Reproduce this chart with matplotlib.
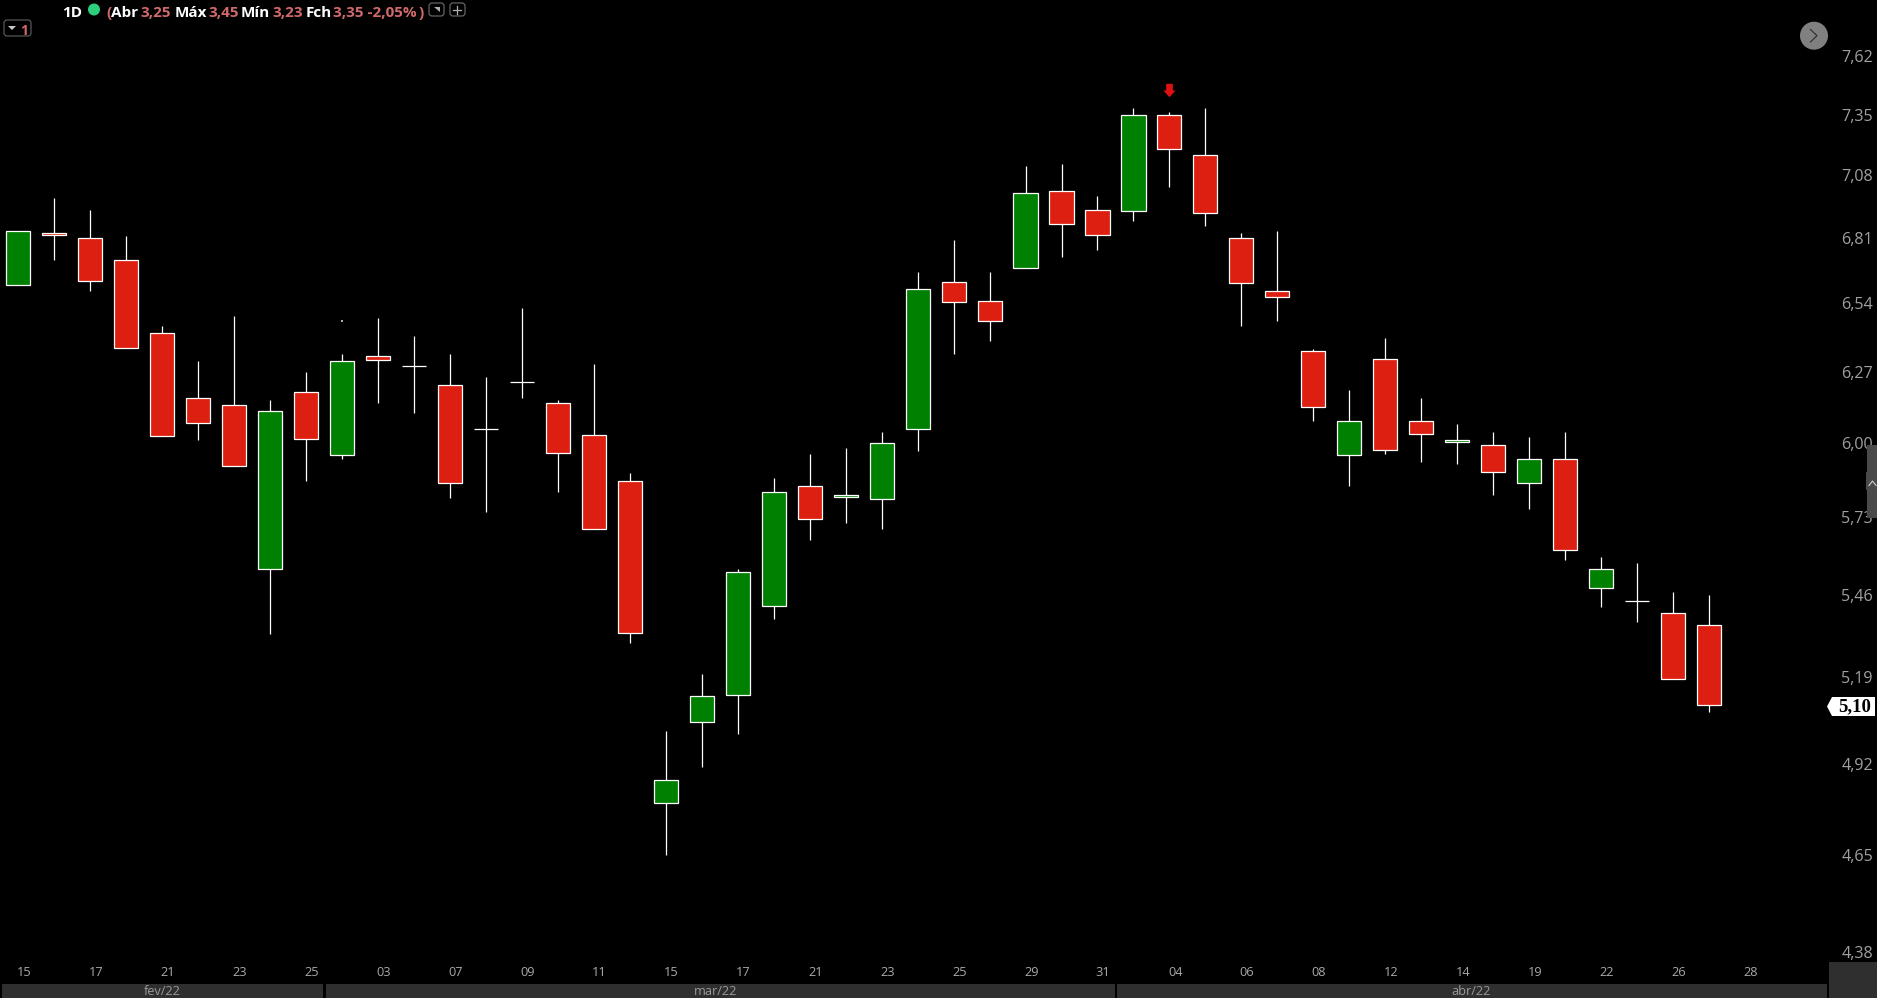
import matplotlib
matplotlib.use('Agg')
import matplotlib.pyplot as plt
from matplotlib.patches import Circle, FancyBboxPatch, Polygon, Rectangle
from matplotlib.path import Path
from matplotlib.transforms import blended_transform_factory

# daily candles
opens = [6.612, 6.828, 6.807, 6.715, 6.419, 6.166, 6.139, 5.550, 6.189, 5.953,
         6.328, 6.289, 6.216, 6.049, 6.227, 6.147, 6.026, 5.857, 4.800, 5.049,
         5.132, 5.422, 5.839, 5.800, 5.793, 6.052, 6.628, 6.547, 6.682, 7.008,
         6.926, 6.922, 7.345, 7.166, 6.807, 6.588, 6.348, 5.953, 6.317, 6.079,
         6.001, 5.990, 5.850, 5.938, 5.483, 5.439, 5.399, 5.360]
highs = [6.837, 6.979, 6.928, 6.817, 6.448, 6.310, 6.488, 6.160, 6.267, 6.338,
         6.480, 6.408, 6.338, 6.247, 6.520, 6.160, 6.298, 5.887, 5.019, 5.199,
         5.547, 5.869, 5.957, 5.979, 6.039, 6.667, 6.800, 6.667, 7.119, 7.127,
         6.988, 7.379, 7.361, 7.379, 6.830, 6.838, 6.356, 6.198, 6.400, 6.167,
         6.068, 6.039, 6.020, 6.039, 5.590, 5.569, 5.470, 5.460]
lows = [6.612, 6.718, 6.590, 6.360, 6.023, 6.010, 5.912, 5.330, 5.859, 5.940,
        6.149, 6.111, 5.799, 5.749, 6.168, 5.820, 5.689, 5.301, 4.650, 4.910,
        5.011, 5.381, 5.650, 5.709, 5.688, 5.970, 6.339, 6.390, 6.682, 6.730,
        6.760, 6.882, 7.028, 6.860, 6.449, 6.469, 6.081, 5.842, 5.959, 5.929,
        5.922, 5.809, 5.759, 5.580, 5.421, 5.370, 5.182, 5.080]
closes = [6.837, 6.820, 6.632, 6.360, 6.023, 6.071, 5.912, 6.117, 6.012, 6.309,
          6.313, 6.289, 5.850, 6.049, 6.227, 5.960, 5.689, 5.332, 4.869, 5.128,
          5.537, 5.818, 5.721, 5.807, 5.997, 6.596, 6.543, 6.470, 7.000, 6.870,
          6.820, 7.345, 7.193, 6.913, 6.620, 6.564, 6.132, 6.079, 5.972, 6.030,
          6.008, 5.890, 5.938, 5.613, 5.547, 5.439, 5.182, 5.100]

price_ticks = [7.62, 7.35, 7.08, 6.81, 6.54, 6.27, 6.00, 5.73, 5.46, 5.19, 4.92, 4.65, 4.38]
date_labels = ['15', '17', '21', '23', '25', '03', '07', '09', '11', '15', '17', '21', '23',
               '25', '29', '31', '04', '06', '08', '12', '14', '19', '22', '26', '28']
months = ['fev/22', 'mar/22', 'abr/22']
last_price = 5.10
signal_idx = 32
signal_price = 7.46
dot_idx = 9
dot_price = 6.468

RED = '#dc1f10'
GREEN = '#008000'
SALMON = '#d06a6a'
W, H = 1877, 998

plt.rcParams['font.family'] = ['Open Sans', 'DejaVu Sans']
fig = plt.figure(figsize=(W / 100, H / 100), dpi=100, facecolor='black')

ax = fig.add_axes([0, 0, 1, 1], facecolor='black')
ax.set_yscale('log')
xs = list(range(len(opens)))
ax.vlines(xs, lows, highs, color='white', linewidth=0.9, zorder=2)
colors = [GREEN if c > o else RED for o, c in zip(opens, closes)]
ax.bar(xs, [abs(c - o) for o, c in zip(opens, closes)],
       bottom=[min(o, c) for o, c in zip(opens, closes)],
       width=0.67, color=colors, edgecolor='white', linewidth=0.9, zorder=3)
ax.set_xlim(-0.509, 51.67)
ax.set_ylim(4.2555, 7.8885)
ax.set_axis_off()

# sell signal and the stray tick
arrow = Path([(-3, 6), (3, 6), (3, 0), (5.5, 0), (0, -6), (-5.5, 0), (-3, 0), (-3, 6)], closed=True)
ax.plot([signal_idx], [signal_price], marker=arrow, ms=9.6, color='#e01010', mew=0, zorder=4)
ax.plot([dot_idx], [dot_price], marker='s', ms=1.5, color='#b0b0b0', mew=0, zorder=4)

# everything around the plot, in pixel coordinates
ui = fig.add_axes([0, 0, 1, 1], facecolor='none')
ui.set_xlim(0, W)
ui.set_ylim(H, 0)
ui.set_axis_off()
x_trans = blended_transform_factory(ax.transData, ui.transData)
y_trans = blended_transform_factory(ui.transData, ax.transData)

for p in price_ticks:
    ui.annotate('{:.2f}'.format(p).replace('.', ','), xy=(1873, p), xycoords=y_trans,
                xytext=(0, -1.7), textcoords='offset points', ha='right', va='center',
                fontsize=11.6, color='#a0a0a0', zorder=3)

for i, label in enumerate(date_labels):
    ui.text(i * 2 + 0.16, 973, label, transform=x_trans, ha='center', va='center',
            fontsize=9.2, color='#a8a8a8')

# month strip
for (x0, x1), name, xc in zip([(2, 323), (326, 1115), (1117, 1827)], months, [162, 716, 1471]):
    ui.add_patch(Rectangle((x0, 984), x1 - x0, 14, color='#2f2f2f', lw=0))
    ui.text(xc, 991.5, name, ha='center', va='center', fontsize=9.2, color='#9a9a9a')
ui.add_patch(Rectangle((1829, 962), 48, 36, color='#2f2f2f', lw=0))

# last price tag
ui.add_patch(Polygon([(1827, 706.5), (1832, 697), (1875, 697), (1875, 716), (1832, 716)],
                     color='white', lw=0))
ui.text(1854.5, 706.5, '{:.2f}'.format(last_price).replace('.', ','), ha='center', va='center',
        fontsize=13.5, color='black', family='Liberation Serif', weight='bold')

# side handle, sits over the price labels
ui.add_patch(Rectangle((1867, 445), 10, 73, color='#4a4a4a', lw=0, zorder=5))
ui.add_patch(Rectangle((1866, 472), 2, 18, color='#4a4a4a', lw=0, zorder=5))
ui.plot([1869, 1872.5, 1876], [485.5, 481, 485.5], color='#d0d0d0', lw=0.8, zorder=6)

# round button
ui.add_patch(Circle((1814, 35.7), 14, color='#808080', lw=0))
ui.plot([1810.5, 1817, 1810.5], [29.5, 35.7, 42], color='#2a2a2a', lw=0.8)

# header
ui.text(62, 13, '1D', ha='left', va='center', fontsize=11, color='white', weight='bold')
ui.add_patch(Circle((94, 9.5), 6, color='#2bcf7d', lw=0))
header = [(106, '(', SALMON), (111, 'Abr', 'white'), (140.7, '3,25', SALMON),
          (174.7, 'Máx', 'white'), (208, '3,45', SALMON), (241, 'Mín', 'white'),
          (272, '3,23', SALMON), (305.7, 'Fch', 'white'), (333, '3,35 -2,05%', SALMON),
          (419, ')', SALMON)]
for hx, txt, col in header:
    ui.text(hx, 13, txt, ha='left', va='center', fontsize=11, color=col, weight='bold')

for bx in [429, 450]:
    ui.add_patch(FancyBboxPatch((bx, 3), 15, 13, boxstyle='round,pad=0,rounding_size=3',
                                fc='none', ec='#707070', lw=0.8))
ui.add_patch(Polygon([(434, 7), (440, 7), (440, 12)], color='#b0b0b0', lw=0))
ui.plot([453.5, 461.5], [9.5, 9.5], color='#b0b0b0', lw=0.9)
ui.plot([457.5, 457.5], [5.5, 13.5], color='#b0b0b0', lw=0.9)

ui.add_patch(FancyBboxPatch((4, 20), 27, 16, boxstyle='round,pad=0,rounding_size=3',
                            fc='none', ec='#606060', lw=0.8))
ui.add_patch(Polygon([(8, 26), (16, 26), (12, 30)], color='#c8c8c8', lw=0))
ui.text(24, 30.5, '1', ha='center', va='center', fontsize=10, color=SALMON, weight='bold')

fig.savefig('out.png', dpi=100, facecolor='black')
